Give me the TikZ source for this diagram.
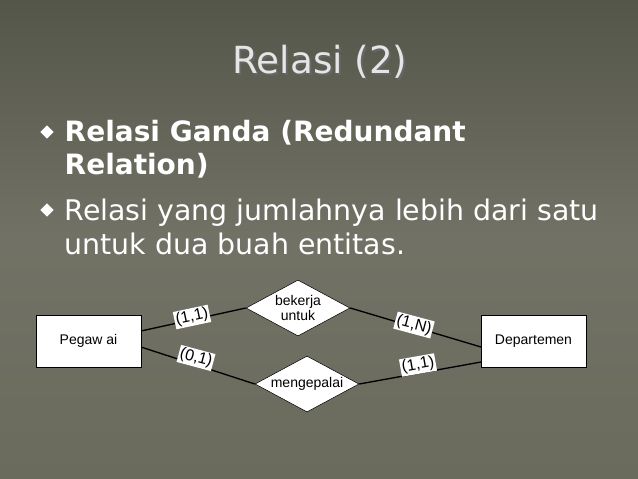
\documentclass[tikz,border=0pt]{standalone}
\usepackage{fontspec}
\setmainfont{DejaVu Sans}
\newfontfamily\arial{Liberation Sans}
\usetikzlibrary{shapes.geometric}
\definecolor{bg}{HTML}{6A6B5D}
\definecolor{bgd}{HTML}{55564A}
\tikzset{
 ent/.style={draw=black,fill=white,minimum width=105*0.75pt,minimum height=52*0.75pt,font=\arial\fontsize{10.5}{11}\selectfont,inner sep=0pt},
 rel/.style={draw=black,fill=white,diamond,aspect=1.9,inner sep=0pt,minimum width=104*0.75pt,minimum height=56*0.75pt,font=\arial\fontsize{10.5}{11}\selectfont,align=center},
 card/.style={fill=white,inner sep=1pt,font=\arial\fontsize{12}{12}\selectfont},
 conn/.style={draw=black,line width=1pt},
 bul/.style={fill=white,diamond,inner sep=0pt,minimum size=10pt}
}
\begin{document}
\begin{tikzpicture}[x=0.75pt,y=-0.75pt]
\shade[top color=bgd,bottom color=bg,middle color=bg!95!white] (0,0) rectangle (638,478);
\useasboundingbox (0,0) rectangle (638,478);
\node[font=\fontsize{28}{30}\selectfont,text=black!60] (ts) at (322,64) {Relasi (2)};
\node[font=\fontsize{28}{30}\selectfont,text=white!80!gray] (t) at (320,62) {Relasi (2)};
\node[bul] (b1) at (47,132) {};
\node[anchor=west,text=white,font=\bfseries\fontsize{21}{25}\selectfont,align=left] (l1) at (60,149) {Relasi Ganda (Redundant\\Relation)};
\node[bul] (b2) at (47,210) {};
\node[anchor=west,text=white,font=\fontsize{21.3}{25}\selectfont,align=left] (l2) at (60,227) {Relasi yang jumlahnya lebih dari satu\\untuk dua buah entitas.};
\node[ent] (p) at (88.5,341) {Pegaw ai};
\node[ent] (d) at (533.5,341) {Departemen};
\node[rel] (r1) at (298,308) {bekerja\\untuk};
\node[rel] (r2) at (307,384) {mengepalai};
\coordinate (p1) at (141,331);
\coordinate (p2) at (141,347);
\coordinate (d1) at (481,347);
\coordinate (d2) at (481,362);
\draw[conn] (p1) -- (r1.west);
\draw[conn] (p2) -- (r2.west);
\draw[conn] (r1.east) -- (d1);
\draw[conn] (r2.east) -- (d2);
\node[card,rotate=12] (c1) at (192,317) {(1,1)};
\node[card,rotate=-15] (c2) at (414,325) {(1,N)};
\node[card,rotate=-15] (c3) at (196,358) {(0,1)};
\node[card,rotate=10] (c4) at (418,365) {(1,1)};
\end{tikzpicture}
\end{document}
